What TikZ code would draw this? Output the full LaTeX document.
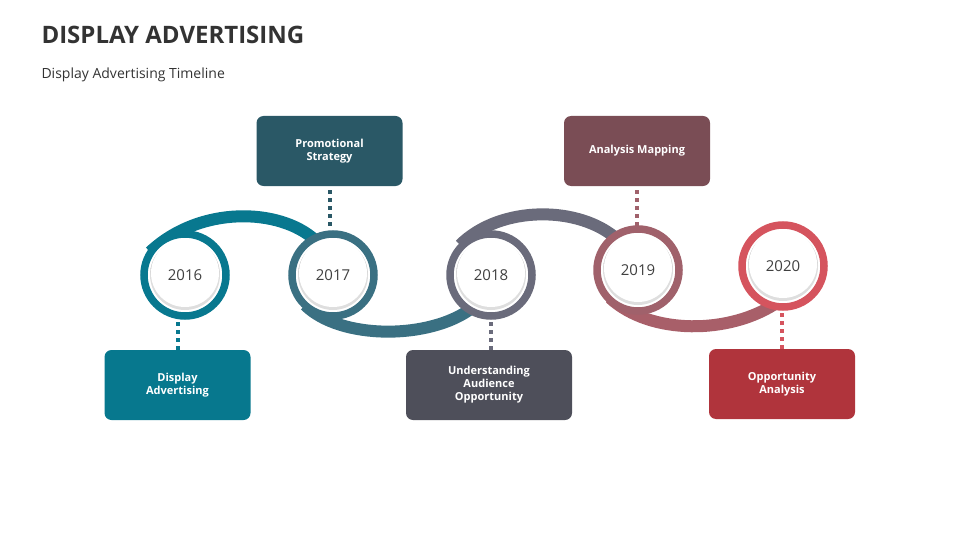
\documentclass[tikz,border=0pt]{standalone}
\usepackage{fontspec}
\setmainfont{Open Sans}
\begin{document}
\begin{tikzpicture}[x=1pt,y=-1pt,
  band/.style={line width=12pt},
  ring/.style={circle,minimum size=82pt,line width=7.5pt,fill=white,font=\fontsize{15}{15}\selectfont,text=black!75,inner sep=0pt},
  lbl/.style={rounded corners=7pt,text=white,font=\bfseries\fontsize{11}{13}\selectfont,align=center,minimum width=146pt,minimum height=70pt,inner sep=2pt},
  dots/.style={line width=4pt,dash pattern=on 4pt off 4pt}]
\useasboundingbox (0,0) rectangle (960,540);
\definecolor{cA}{HTML}{08788F}\definecolor{cB}{HTML}{3A7082}\definecolor{cC}{HTML}{6A6B7B}
\definecolor{cD}{HTML}{A0616B}\definecolor{cE}{HTML}{D5545E}
\definecolor{bA}{HTML}{07788E}\definecolor{bB}{HTML}{2A5866}\definecolor{bC}{HTML}{4E4F5A}
\definecolor{bD}{HTML}{7A4D55}\definecolor{bE}{HTML}{B0343C}
\node[anchor=west,font=\bfseries\fontsize{24}{24}\selectfont,text=black!80] (title) at (38,35) {DISPLAY ADVERTISING};
\node[anchor=west,font=\fontsize{14}{14}\selectfont,text=black!80] (sub) at (38,75) {Display Advertising Timeline};
% bands
\draw[band,cA] (150,252) .. controls (200,205) and (280,208) .. (315,240);
\draw[band,cB] (305,305) .. controls (340,340) and (430,340) .. (472,308);
\draw[band,cC] (460,245) .. controls (500,205) and (580,205) .. (618,240);
\draw[band,cD!85!cE] (610,298) .. controls (650,335) and (730,335) .. (778,302);
% rings
\foreach \n/\x/\y/\c/\t in {r1/185/275/cA/2016,r2/333/275/cB/2017,r3/491/275/cC/2018,r4/638/270/cD/2019,r5/783/266/cE/2020}{
  \node[ring,draw=\c] (\n) at (\x,\y) {};
  \shade[inner color=white,outer color=white,middle color=white] (\x,\y) circle (35);
  \fill[black!25,opacity=0.5] (\x,\y) circle (35);
  \fill[white] (\x,\y-2) circle (34);
  \node[font=\fontsize{15}{15}\selectfont,text=black!75] at (\x,\y) {\t};
}
% boxes
\node[lbl,fill=bA] (b1) at (177.5,385) {Display\\Advertising};
\node[lbl,fill=bB] (b2) at (329.5,151) {Promotional\\Strategy};
\node[lbl,fill=bC,minimum width=166pt] (b3) at (489,385) {Understanding\\Audience\\Opportunity};
\node[lbl,fill=bD] (b4) at (637,151) {Analysis Mapping};
\node[lbl,fill=bE] (b5) at (782,384) {Opportunity\\Analysis};
\draw[dots,cA] (b1.north -| 178,0) -- (178,318);
\draw[dots,bB] (b2.south) ++(0,4) -- (329.5,228);
\draw[dots,cC] (b3.north -| 491,0) -- (491,318);
\draw[dots,cD] (b4.south) ++(0,4) -- (637,228);
\draw[dots,cE] (b5.north) -- (782,310);
\end{tikzpicture}
\end{document}
